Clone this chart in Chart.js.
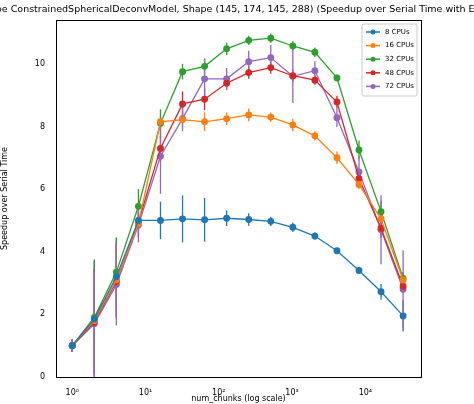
<!DOCTYPE html>
<html>
<head>
<script src="https://cdn.jsdelivr.net/npm/chart.js@4"></script>
<style>body{margin:0;background:#fff}#wrap{width:474px;height:404px}</style>
</head>
<body>
<div id="wrap"><canvas id="myChart"></canvas></div>
<script>
// num_chunks and speedups
const chunks = [1, 2, 4, 8, 16, 32, 64, 128, 256, 512, 1024, 2048, 4096, 8192, 16384, 32768];

const cpu8 = [1.0, 1.85, 3.2, 5.0, 5.0, 5.05, 5.02, 5.07, 5.03, 4.97, 4.78, 4.5, 4.03, 3.4, 2.72, 1.95];
const cpu16 = [1.0, 1.8, 3.1, 4.9, 8.15, 8.22, 8.15, 8.25, 8.37, 8.3, 8.05, 7.7, 7.0, 6.15, 5.05, 3.1];
const cpu32 = [1.0, 1.9, 3.35, 5.45, 8.1, 9.75, 9.92, 10.48, 10.75, 10.82, 10.57, 10.37, 9.55, 7.25, 5.28, 3.15];
const cpu48 = [1.0, 1.75, 3.05, 4.95, 7.3, 8.72, 8.87, 9.38, 9.72, 9.88, 9.62, 9.48, 8.78, 6.33, 4.75, 2.9];
const cpu72 = [1.0, 1.7, 2.95, 4.85, 7.05, 8.25, 9.52, 9.52, 10.07, 10.2, 9.6, 9.78, 8.28, 6.55, 4.7, 2.8];

const err8 = [0.2, 1.9, 1.25, 0.1, 0.6, 0.75, 0.7, 0.25, 0.2, 0.15, 0.15, 0.12, 0.1, 0.05, 0.25, 0.5];
const err16 = [0.2, 1.6, 1.2, 0.3, 0.2, 0.2, 0.3, 0.2, 0.2, 0.15, 0.2, 0.15, 0.2, 0.15, 0.2, 0.2];
const err32 = [0.2, 1.8, 1.1, 0.55, 0.45, 0.25, 0.25, 0.2, 0.15, 0.15, 0.15, 0.15, 0.1, 0.3, 0.35, 0.2];
const err48 = [0.2, 1.7, 1.2, 0.5, 0.4, 0.4, 0.35, 0.2, 0.2, 0.2, 0.2, 0.15, 0.2, 0.2, 0.3, 0.2];
const err72 = [0.2, 1.7, 1.3, 0.55, 1.2, 0.4, 0.65, 0.35, 0.35, 0.4, 0.85, 0.3, 0.3, 0.5, 1.1, 1.25];

const seriesNames = ['8 CPUs', '16 CPUs', '32 CPUs', '48 CPUs', '72 CPUs'];
const seriesValues = [cpu8, cpu16, cpu32, cpu48, cpu72];
const seriesErrors = [err8, err16, err32, err48, err72];
const colors = ['#1f77b4', '#ff7f0e', '#2ca02c', '#d62728', '#9467bd'];

const sup = {'0':'\u2070','1':'\u00b9','2':'\u00b2','3':'\u00b3','4':'\u2074'};

const datasets = seriesValues.map(function (vals, i) {
  return {
    label: seriesNames[i],
    data: vals.map(function (v, j) { return {x: chunks[j], y: v}; }),
    errors: seriesErrors[i],
    borderColor: colors[i],
    backgroundColor: colors[i],
    borderWidth: 1.3,
    pointRadius: 2.8,
    pointHoverRadius: 2.8
  };
});

const errorBars = {
  id: 'errorBars',
  beforeDatasetsDraw(chart) {
    const ctx = chart.ctx, xs = chart.scales.x, ys = chart.scales.y;
    ctx.save();
    chart.data.datasets.forEach(function (ds) {
      ctx.strokeStyle = ds.borderColor;
      ctx.lineWidth = 1.3;
      ds.data.forEach(function (p, j) {
        const px = xs.getPixelForValue(p.x);
        const e = ds.errors[j];
        ctx.beginPath();
        ctx.moveTo(px, ys.getPixelForValue(Math.max(0, p.y - e)));
        ctx.lineTo(px, ys.getPixelForValue(p.y + e));
        ctx.stroke();
      });
    });
    ctx.restore();
  },
  afterDraw(chart) {
    const ctx = chart.ctx, a = chart.chartArea;
    ctx.save();
    // frame
    ctx.strokeStyle = '#000'; ctx.lineWidth = 1;
    ctx.strokeRect(a.left + 0.5, a.top + 0.5, a.right - a.left, a.bottom - a.top);
    // title
    ctx.fillStyle = '#000';
    ctx.font = '9.5px "DejaVu Sans"';
    ctx.textAlign = 'center'; ctx.textBaseline = 'middle';
    ctx.fillText('Model Type ConstrainedSphericalDeconvModel, Shape (145, 174, 145, 288) (Speedup over Serial Time with Error Bars)', 237, 10);
    // legend
    const lx = 362, ly = 24, lw = 55, lh = 72;
    ctx.fillStyle = 'rgba(255,255,255,0.8)';
    ctx.strokeStyle = '#ccc';
    ctx.beginPath(); ctx.roundRect(lx, ly, lw, lh, 2); ctx.fill(); ctx.stroke();
    ctx.font = '7px "DejaVu Sans"'; ctx.textAlign = 'left';
    seriesNames.forEach(function (n, i) {
      const yy = ly + 8 + i * 13.6;
      ctx.strokeStyle = colors[i]; ctx.fillStyle = colors[i]; ctx.lineWidth = 1.5;
      ctx.beginPath(); ctx.moveTo(lx + 4, yy); ctx.lineTo(lx + 18, yy); ctx.stroke();
      ctx.beginPath(); ctx.arc(lx + 11, yy, 2.5, 0, Math.PI * 2); ctx.fill();
      ctx.fillStyle = '#000';
      ctx.fillText(n, lx + 23, yy);
    });
    ctx.restore();
  }
};

new Chart(document.getElementById('myChart'), {
  type: 'line',
  data: {datasets: datasets},
  plugins: [errorBars],
  options: {
    responsive: true,
    maintainAspectRatio: false,
    animation: false,
    layout: {padding: {top: 20, right: 53, left: 0, bottom: 0}},
    plugins: {legend: {display: false}, tooltip: {enabled: false}},
    scales: {
      x: {
        type: 'logarithmic',
        min: 0.63, max: 57500,
        grid: {display: false, drawTicks: true},
        border: {display: false},
        afterFit: function (s) { s.height = 27; },
        afterBuildTicks: function (s) {
          const t = [];
          for (let e = 0; e <= 4; e++) t.push({value: Math.pow(10, e)});
          s.ticks = t;
        },
        ticks: {
          autoSkip: false, maxRotation: 0, color: '#000', font: {size: 8, family: 'DejaVu Sans'},
          callback: function (v) { return '10' + sup[String(Math.round(Math.log10(v)))]; }
        },
        title: {display: true, text: 'num_chunks (log scale)', color: '#000', font: {size: 8, family: 'DejaVu Sans'}, padding: 0}
      },
      y: {
        min: 0, max: 11.4,
        grid: {display: false},
        border: {display: false},
        afterFit: function (s) { s.width = 56; },
        afterBuildTicks: function (s) {
          s.ticks = [0, 2, 4, 6, 8, 10].map(function (v) { return {value: v}; });
        },
        ticks: {color: '#000', font: {size: 8, family: 'DejaVu Sans'}},
        title: {display: true, text: 'Speedup over Serial Time', color: '#000', font: {size: 8, family: 'DejaVu Sans'}, padding: 0}
      }
    }
  }
});
</script>
</body>
</html>
